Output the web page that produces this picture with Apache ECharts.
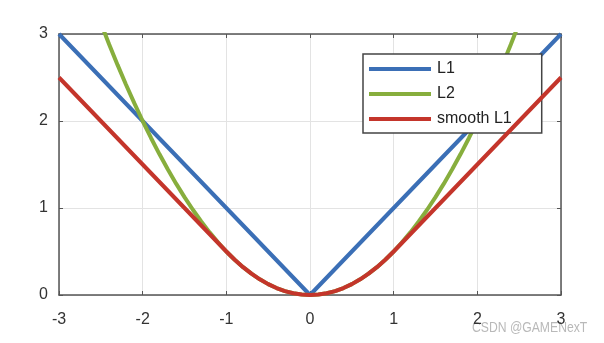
<!DOCTYPE html>
<html>
<head>
<meta charset="utf-8">
<script src="https://cdn.jsdelivr.net/npm/echarts@6/dist/echarts.min.js"></script>
<style>
  html, body { margin: 0; padding: 0; background: #fff; }
  #chart { width: 604px; height: 343px; }
</style>
</head>
<body>
<div id="chart"></div>
<script>
// Loss curves: L1, L2 and smooth L1 over x in [-3, 3]
const seriesNames = ['L1', 'L2', 'smooth L1'];

const l1X = [-3, 0, 3];
const l1Y = [3, 0, 3];

const l2X = [-2.5, -2.4, -2.3, -2.2, -2.1, -2.0, -1.9, -1.8, -1.7, -1.6, -1.5, -1.4, -1.3, -1.2, -1.1,
             -1.0, -0.9, -0.8, -0.7, -0.6, -0.5, -0.4, -0.3, -0.2, -0.1, 0,
             0.1, 0.2, 0.3, 0.4, 0.5, 0.6, 0.7, 0.8, 0.9, 1.0,
             1.1, 1.2, 1.3, 1.4, 1.5, 1.6, 1.7, 1.8, 1.9, 2.0, 2.1, 2.2, 2.3, 2.4, 2.5];
const l2Y = [3.125, 2.88, 2.645, 2.42, 2.205, 2.0, 1.805, 1.62, 1.445, 1.28, 1.125, 0.98, 0.845, 0.72, 0.605,
             0.5, 0.405, 0.32, 0.245, 0.18, 0.125, 0.08, 0.045, 0.02, 0.005, 0,
             0.005, 0.02, 0.045, 0.08, 0.125, 0.18, 0.245, 0.32, 0.405, 0.5,
             0.605, 0.72, 0.845, 0.98, 1.125, 1.28, 1.445, 1.62, 1.805, 2.0, 2.205, 2.42, 2.645, 2.88, 3.125];

const smoothX = [-3, -1.0, -0.9, -0.8, -0.7, -0.6, -0.5, -0.4, -0.3, -0.2, -0.1, 0,
                 0.1, 0.2, 0.3, 0.4, 0.5, 0.6, 0.7, 0.8, 0.9, 1.0, 3];
const smoothY = [2.5, 0.5, 0.405, 0.32, 0.245, 0.18, 0.125, 0.08, 0.045, 0.02, 0.005, 0,
                 0.005, 0.02, 0.045, 0.08, 0.125, 0.18, 0.245, 0.32, 0.405, 0.5, 2.5];

const xTicks = [-3, -2, -1, 0, 1, 2, 3];
const yTicks = [0, 1, 2, 3];

const colors = ['#3b6fb6', '#87ae3d', '#c4352b'];

function pairs(xs, ys) { return xs.map((x, i) => [x, ys[i]]); }

const font = '"Liberation Sans", Arial, Helvetica, sans-serif';
const frame = '#555';
const chart = echarts.init(document.getElementById('chart'), null, { renderer: 'canvas' });

const lineSeries = (name, data, color, z) => ({
  name, type: 'line', data, showSymbol: false, symbol: 'none', z,
  lineStyle: { color, width: 4 }, itemStyle: { color }, clip: true, animation: false
});

const frameAxis = (extra) => Object.assign({
  type: 'value', interval: 1,
  axisLine: { show: true, onZero: false, lineStyle: { color: frame, width: 1.5 } },
  axisTick: { show: true, inside: true, length: 4, lineStyle: { color: frame } },
  splitLine: { show: false }
}, extra);

chart.setOption({
  animation: false,
  backgroundColor: '#fff',
  grid: { left: 59, right: 43, top: 34, bottom: 48 },
  xAxis: [
    frameAxis({
      position: 'bottom', min: -3, max: 3,
      axisLabel: { color: '#333', fontSize: 16, fontFamily: font, margin: 17,
        formatter: v => xTicks.includes(v) ? String(v) : '' },
      splitLine: { show: true, lineStyle: { color: '#e3e3e3', width: 1 } }
    }),
    frameAxis({ position: 'top', min: -3, max: 3, axisLabel: { show: false } })
  ],
  yAxis: [
    frameAxis({
      position: 'left', min: 0, max: 3,
      axisLabel: { color: '#333', fontSize: 16, fontFamily: font, margin: 11,
        formatter: v => yTicks.includes(v) ? String(v) : '' },
      splitLine: { show: true, lineStyle: { color: '#e3e3e3', width: 1 } }
    }),
    frameAxis({ position: 'right', min: 0, max: 3, axisLabel: { show: false } })
  ],
  legend: {
    orient: 'vertical', left: 363, top: 54,
    data: seriesNames.map(n => ({ name: n, icon: 'rect' })),
    itemWidth: 62, itemHeight: 4, itemGap: 5,
    padding: [5, 30, 4, 6],
    backgroundColor: '#fff', borderColor: '#444', borderWidth: 1.5,
    textStyle: { color: '#222', fontSize: 16, fontFamily: font, lineHeight: 20, padding: [0, 0, 0, 1] }
  },
  series: [
    lineSeries(seriesNames[0], pairs(l1X, l1Y), colors[0], 2),
    lineSeries(seriesNames[1], pairs(l2X, l2Y), colors[1], 3),
    lineSeries(seriesNames[2], pairs(smoothX, smoothY), colors[2], 4)
  ],
  graphic: [{
    type: 'text', x: 472, y: 321, scaleX: 0.87, originX: 0, originY: 0,
    style: { text: 'CSDN @GAMENexT', fill: '#b9b9b9', font: '14px ' + font }
  }]
});
</script>
</body>
</html>
